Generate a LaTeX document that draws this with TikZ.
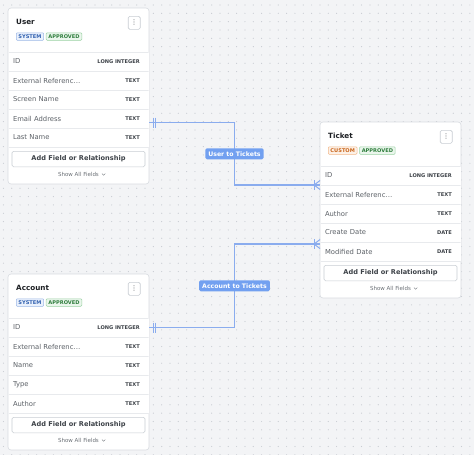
\documentclass[tikz,border=0pt]{standalone}
\usepackage{fontspec}
\setmainfont{DejaVu Sans}
\usepackage{tikz}
\usetikzlibrary{positioning, calc}
\definecolor{canvas}{HTML}{F3F4F6}
\definecolor{griddot}{HTML}{C8CCD2}
\definecolor{cardline}{HTML}{D8DBE0}
\definecolor{rowline}{HTML}{E8EAED}
\definecolor{fieldgray}{HTML}{5C6167}
\definecolor{typegray}{HTML}{3D4248}
\definecolor{titleblack}{HTML}{1C1F23}
\definecolor{relblue}{HTML}{8AACEE}
\definecolor{labelblue}{HTML}{72A0F0}
\definecolor{btnline}{HTML}{C8CDD3}
\definecolor{showgray}{HTML}{6B7076}
\definecolor{sysfill}{HTML}{EAF1FC}
\definecolor{sysline}{HTML}{9DB8E6}
\definecolor{systext}{HTML}{2F5FAF}
\definecolor{okfill}{HTML}{EAF6EC}
\definecolor{okline}{HTML}{9CD2A5}
\definecolor{oktext}{HTML}{2E7D3C}
\definecolor{cusfill}{HTML}{FDF1E7}
\definecolor{cusline}{HTML}{F2B98C}
\definecolor{custext}{HTML}{C9641A}
\tikzstyle{card} = [rectangle, rounded corners=3pt, minimum width=141pt, minimum height=176pt, outer sep=0pt, draw=cardline, line width=0.6pt, fill=white]
\tikzstyle{title} = [inner sep=0pt, font=\fontsize{7.2}{8}\selectfont\bfseries, text=titleblack]
\tikzstyle{badge} = [rectangle, rounded corners=1pt, inner xsep=2.2pt, inner ysep=0pt, minimum height=7.5pt, line width=0.5pt, font=\fontsize{5.1}{5}\selectfont\bfseries]
\tikzstyle{sysbadge} = [draw=sysline, fill=sysfill, text=systext]
\tikzstyle{okbadge} = [draw=okline, fill=okfill, text=oktext]
\tikzstyle{cusbadge} = [draw=cusline, fill=cusfill, text=custext]
\tikzstyle{menu} = [rectangle, rounded corners=1.5pt, draw=btnline, line width=0.6pt, minimum width=12pt, minimum height=13pt, inner sep=0pt, font=\fontsize{6.5}{6}\selectfont, text=typegray]
\tikzstyle{row} = [rectangle, minimum width=140pt, minimum height=19pt, text width=131pt, inner xsep=4.5pt, inner ysep=0pt, outer sep=0pt, align=left, fill=white, font=\fontsize{6.8}{8}\selectfont, text=fieldgray,
  path picture={\draw [rowline, line width=1pt] (path picture bounding box.north west) -- (path picture bounding box.north east);
                \draw [rowline, line width=1pt] (path picture bounding box.south west) -- (path picture bounding box.south east);}]
\tikzstyle{ftype} = [inner sep=0pt, font=\fontsize{5.1}{5}\selectfont\bfseries, text=typegray]
\tikzstyle{addbtn} = [rectangle, rounded corners=1.5pt, draw=btnline, line width=0.6pt, fill=white, minimum width=133pt, minimum height=15.5pt, font=\fontsize{6.6}{8}\selectfont\bfseries, text=typegray]
\tikzstyle{showall} = [inner sep=0pt, font=\fontsize{5.5}{6}\selectfont, text=showgray]
\tikzstyle{chev} = [draw=showgray, line width=0.45pt]
\tikzstyle{rel} = [draw=relblue, line width=1.3pt]
\tikzstyle{relmark} = [draw=relblue, line width=1pt]
\tikzstyle{rellabel} = [rectangle, rounded corners=1.5pt, fill=labelblue, text=white, inner xsep=3pt, minimum height=11pt, inner ysep=0pt, font=\fontsize{6.2}{7}\selectfont\bfseries]

\begin{document}
\begin{tikzpicture}[x=1pt, y=-1pt, node distance=19pt]
    % canvas with dot grid
    \fill [canvas] (0,0) rectangle (474,455);
    \useasboundingbox (0,0) rectangle (474,455);
    \foreach \gx in {0,...,56}
        \foreach \gy in {0,...,54}
            \fill [griddot] (3.4+8.33*\gx, 5+8.33*\gy) circle (0.6);

    % User
    \node (user) [card, anchor=north west] at (8,8) {};
    \node (utitle) [title, below right=16.5pt and 8pt of user.north west, anchor=base west] {User};
    \node (usys) [badge, sysbadge, below right=24.5pt and 8pt of user.north west] {SYSTEM};
    \node (uok) [badge, okbadge, right=2pt of usys] {APPROVED};
    \node (umenu) [menu, below left=8pt and 8.5pt of user.north east] {⋮};
    \node (uid) [row, below right=44pt and 0.5pt of user.north west] {ID};
    \node (uext) [row, below=0pt of uid] {External Referenc…};
    \node (uscreen) [row, below=0pt of uext] {Screen Name};
    \node (uemail) [row, below=0pt of uscreen] {Email Address};
    \node (ulast) [row, below=0pt of uemail] {Last Name};
    \node (uidt) [ftype, left=8.5pt of uid.east] {LONG INTEGER};
    \node (uextt) [ftype, left=8.5pt of uext.east] {TEXT};
    \node (uscreent) [ftype, left=8.5pt of uscreen.east] {TEXT};
    \node (uemailt) [ftype, left=8.5pt of uemail.east] {TEXT};
    \node (ulastt) [ftype, left=8.5pt of ulast.east] {TEXT};
    \node (uadd) [addbtn, below=4pt of ulast] {Add Field or Relationship};
    \node (ushow) [showall, below=5pt of uadd] {Show All Fields};
    \draw [chev] ($(ushow.east)+(3,-0.8)$) -- ++(1.6,1.6) -- ++(1.6,-1.6);

    % Ticket
    \node (ticket) [card, anchor=north west] at (320,122) {};
    \node (ttitle) [title, below right=16.5pt and 8pt of ticket.north west, anchor=base west] {Ticket};
    \node (tcus) [badge, cusbadge, below right=24.5pt and 8pt of ticket.north west] {CUSTOM};
    \node (tok) [badge, okbadge, right=2pt of tcus] {APPROVED};
    \node (tmenu) [menu, below left=8pt and 8.5pt of ticket.north east] {⋮};
    \node (tid) [row, below right=44pt and 0.5pt of ticket.north west] {ID};
    \node (text) [row, below=0pt of tid] {External Referenc…};
    \node (tauthor) [row, below=0pt of text] {Author};
    \node (tcreate) [row, below=0pt of tauthor] {Create Date};
    \node (tmod) [row, below=0pt of tcreate] {Modified Date};
    \node (tidt) [ftype, left=8.5pt of tid.east] {LONG INTEGER};
    \node (textt) [ftype, left=8.5pt of text.east] {TEXT};
    \node (tauthort) [ftype, left=8.5pt of tauthor.east] {TEXT};
    \node (tcreatet) [ftype, left=8.5pt of tcreate.east] {DATE};
    \node (tmodt) [ftype, left=8.5pt of tmod.east] {DATE};
    \node (tadd) [addbtn, below=4pt of tmod] {Add Field or Relationship};
    \node (tshow) [showall, below=5pt of tadd] {Show All Fields};
    \draw [chev] ($(tshow.east)+(3,-0.8)$) -- ++(1.6,1.6) -- ++(1.6,-1.6);

    % Account
    \node (account) [card, anchor=north west] at (8,274) {};
    \node (atitle) [title, below right=16.5pt and 8pt of account.north west, anchor=base west] {Account};
    \node (asys) [badge, sysbadge, below right=24.5pt and 8pt of account.north west] {SYSTEM};
    \node (aok) [badge, okbadge, right=2pt of asys] {APPROVED};
    \node (amenu) [menu, below left=8pt and 8.5pt of account.north east] {⋮};
    \node (aid) [row, below right=44pt and 0.5pt of account.north west] {ID};
    \node (aext) [row, below=0pt of aid] {External Referenc…};
    \node (aname) [row, below=0pt of aext] {Name};
    \node (atype) [row, below=0pt of aname] {Type};
    \node (aauthor) [row, below=0pt of atype] {Author};
    \node (aidt) [ftype, left=8.5pt of aid.east] {LONG INTEGER};
    \node (aextt) [ftype, left=8.5pt of aext.east] {TEXT};
    \node (anamet) [ftype, left=8.5pt of aname.east] {TEXT};
    \node (atypet) [ftype, left=8.5pt of atype.east] {TEXT};
    \node (aauthort) [ftype, left=8.5pt of aauthor.east] {TEXT};
    \node (aadd) [addbtn, below=4pt of aauthor] {Add Field or Relationship};
    \node (ashow) [showall, below=5pt of aadd] {Show All Fields};
    \draw [chev] ($(ashow.east)+(3,-0.8)$) -- ++(1.6,1.6) -- ++(1.6,-1.6);

    % relationships
    \coordinate (ufrom) at ($(user.east |- uemail)+(0,4)$);
    \coordinate (uto) at (ticket.west |- tid.south);
    \coordinate (afrom) at (account.east |- aid);
    \coordinate (ato) at ($(ticket.west |- tcreate.south)+(0,2)$);
    \draw [rel] (ufrom) -| ($(ufrom)!0.5!(uto)$) |- (uto);
    \draw [rel] (afrom) -| ($(afrom)!0.5!(ato)$) |- (ato);
    \draw [relmark] ($(ufrom)+(4,-5)$) -- ($(ufrom)+(4,5)$);
    \draw [relmark] ($(ufrom)+(6.5,-5)$) -- ($(ufrom)+(6.5,5)$);
    \draw [relmark] ($(afrom)+(4,-5)$) -- ($(afrom)+(4,5)$);
    \draw [relmark] ($(afrom)+(6.5,-5)$) -- ($(afrom)+(6.5,5)$);
    \draw [relmark] ($(uto)+(-6,-5)$) -- ($(uto)+(-6,5)$);
    \draw [relmark] ($(uto)+(0,-4.5)$) -- ($(uto)+(-6,0)$) -- ($(uto)+(0,4.5)$);
    \draw [relmark] ($(ato)+(-6,-5)$) -- ($(ato)+(-6,5)$);
    \draw [relmark] ($(ato)+(0,-4.5)$) -- ($(ato)+(-6,0)$) -- ($(ato)+(0,4.5)$);
    \node (ulink) [rellabel] at ($(ufrom)!0.5!(uto)$) {User to Tickets};
    \node (alink) [rellabel] at ($(afrom)!0.5!(ato)$) {Account to Tickets};
\end{tikzpicture}
\end{document}
